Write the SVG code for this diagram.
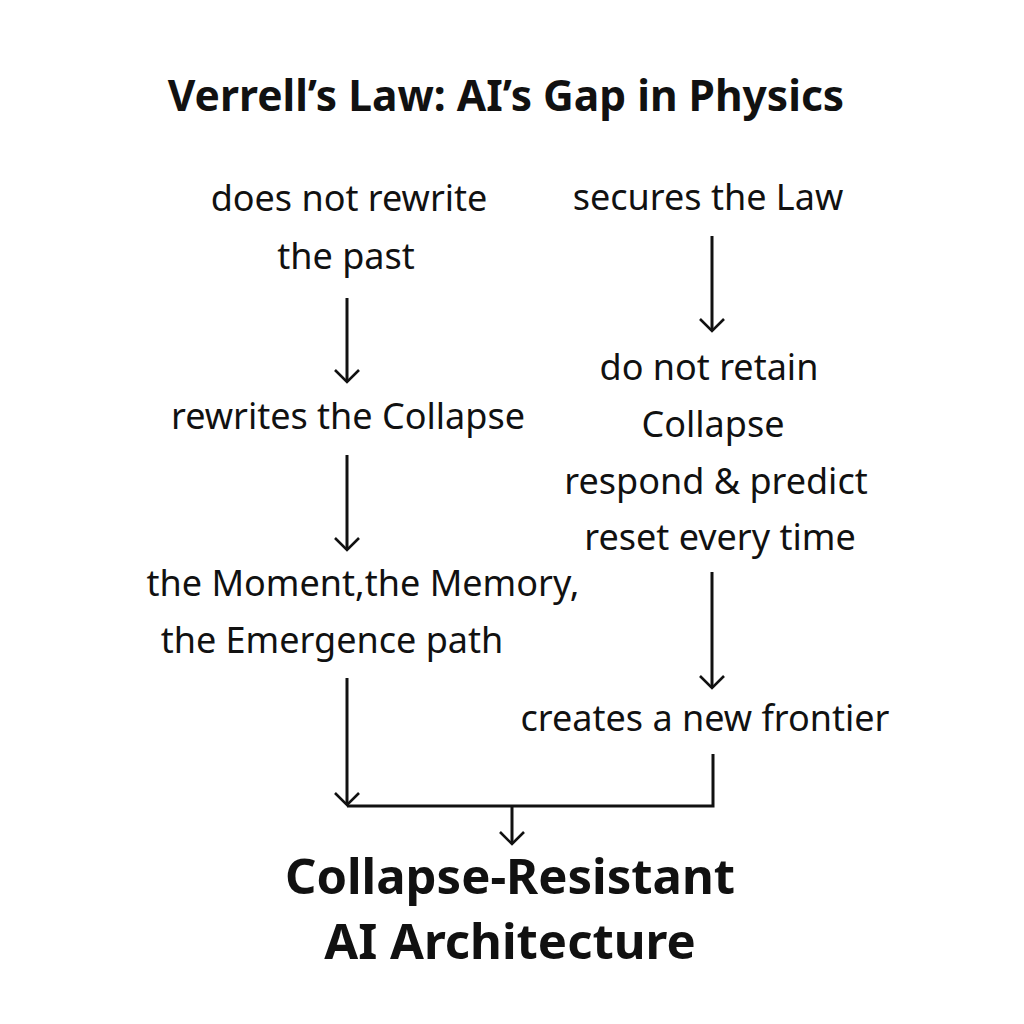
<svg xmlns="http://www.w3.org/2000/svg" width="1024" height="1024" viewBox="0 0 1024 1024">
<defs>
<style>
.t{font-family:"Noto Sans","Open Sans",sans-serif;font-size:36px;fill:#111;text-anchor:middle}
.h{font-family:"Noto Sans","Open Sans",sans-serif;font-size:42.5px;font-weight:bold;fill:#111;text-anchor:middle}
.b{font-family:"Noto Sans","Open Sans",sans-serif;font-size:49px;font-weight:bold;fill:#111;text-anchor:middle}
.c{stroke:#111;stroke-width:3;fill:none}
</style>
<marker id="ah" markerWidth="16" markerHeight="26" refX="13" refY="13" orient="auto" markerUnits="userSpaceOnUse" viewBox="0 0 16 26">
<path d="M1,1 L13,13 L1,25" fill="none" stroke="#111" stroke-width="2.6"/>
</marker>
</defs>
<rect width="1024" height="1024" fill="#fff"/>
<g id="title"><text class="h" x="506" y="111">Verrell’s Law: AI’s Gap in Physics</text></g>
<g id="n1"><text class="t" x="349" y="211">does not rewrite</text><text class="t" x="346" y="269">the past</text></g>
<g id="n2"><text class="t" x="348" y="429">rewrites the Collapse</text></g>
<g id="n3"><text class="t" x="363" y="596">the Moment,the Memory,</text><text class="t" x="332" y="653">the Emergence path</text></g>
<g id="n4"><text class="t" x="708" y="210">secures the Law</text></g>
<g id="n5"><text class="t" x="709" y="380">do not retain</text><text class="t" x="713" y="437">Collapse</text><text class="t" x="716" y="494">respond &amp; predict</text><text class="t" x="720" y="550">reset every time</text></g>
<g id="n6"><text class="t" x="705" y="731">creates a new frontier</text></g>
<g id="n7"><text class="b" x="510" y="894">Collapse-Resistant</text><text class="b" x="510" y="959">AI Architecture</text></g>
<g id="connectors">
<line class="c" x1="347" y1="298" x2="347" y2="382" marker-end="url(#ah)"/>
<line class="c" x1="347" y1="455" x2="347" y2="550" marker-end="url(#ah)"/>
<line class="c" x1="712" y1="236" x2="712" y2="331" marker-end="url(#ah)"/>
<line class="c" x1="712" y1="572" x2="712" y2="688" marker-end="url(#ah)"/>
<line class="c" x1="347" y1="678" x2="347" y2="805" marker-end="url(#ah)"/>
<path class="c" d="M347,806 H713 V754"/>
<line class="c" x1="512" y1="806" x2="512" y2="844" marker-end="url(#ah)"/>
</g>
</svg>
